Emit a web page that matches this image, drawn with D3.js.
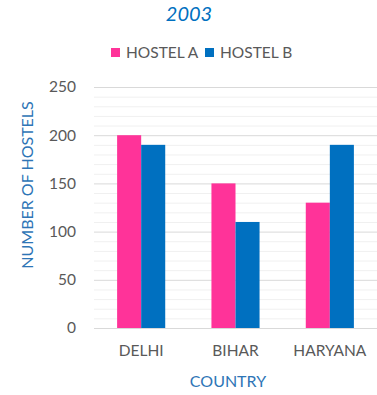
<!DOCTYPE html>
<html>
<head>
<meta charset="utf-8">
<script src="https://cdn.jsdelivr.net/npm/d3@7"></script>
<style>
  body { margin: 0; background: #fff; }
  svg { display: block; font-family: Lato, "Open Sans", sans-serif; }
</style>
</head>
<body>
<svg id="chart" width="377" height="395"></svg>
<script>
const categories = ["DELHI", "BIHAR", "HARYANA"]
const seriesNames = ["HOSTEL A", "HOSTEL B"]
const hostelA = [200, 150, 130]
const hostelB = [190, 110, 190]
const yTicks = [0, 50, 100, 150, 200, 250]
const colors = ["#FF3399", "#0070C0"]

const svg = d3.select("#chart")
const margin = { top: 87, right: 0, bottom: 67, left: 94 }
const width = 377 - margin.left - margin.right
const height = 395 - margin.top - margin.bottom

const x = d3.scaleBand().domain(categories).range([0, width]).paddingInner(0.49).paddingOuter(0.245)
const xs = d3.scaleBand().domain(seriesNames).range([0, x.bandwidth()])
const y = d3.scaleLinear().domain([0, 250]).range([height, 0])

const g = svg.append("g").attr("transform", `translate(${margin.left},${margin.top})`)

// minor grid
g.selectAll("line.minor")
  .data(d3.range(10, 250, 10).filter(v => v % 50 != 0))
  .enter().append("line")
    .attr("x1", 0).attr("x2", width)
    .attr("y1", d => y(d) + 0.5).attr("y2", d => y(d) + 0.5)
    .attr("stroke", "#f0f0f0")

// major grid
g.selectAll("line.major")
  .data(yTicks)
  .enter().append("line")
    .attr("x1", 0).attr("x2", width)
    .attr("y1", d => y(d) + 0.5).attr("y2", d => y(d) + 0.5)
    .attr("stroke", "#d9d9d9")

const rows = categories.map((c, i) => ({ cat: c, vals: [hostelA[i], hostelB[i]] }))

const groups = g.selectAll("g.cat")
  .data(rows)
  .enter().append("g")
    .attr("transform", d => `translate(${x(d.cat)},0)`)

groups.selectAll("rect")
  .data(d => d.vals.map((v, i) => ({ key: seriesNames[i], v: v, i: i })))
  .enter().append("rect")
    .attr("x", d => xs(d.key))
    .attr("width", xs.bandwidth())
    .attr("y", d => y(d.v))
    .attr("height", d => height - y(d.v))
    .attr("fill", d => colors[d.i])

// y axis labels
const yAxis = g.append("g").call(d3.axisLeft(y).tickValues(yTicks).tickSize(0).tickPadding(18))
yAxis.select(".domain").remove()
yAxis.selectAll("text").attr("font-size", 15.5).attr("fill", "#595959").attr("font-family", "Lato, sans-serif")

// x axis labels
const xAxis = g.append("g").attr("transform", `translate(0,${height})`)
  .call(d3.axisBottom(x).tickSize(0).tickPadding(17))
xAxis.select(".domain").remove()
xAxis.selectAll("text").attr("font-size", 15.5).attr("fill", "#595959").attr("font-family", "Lato, sans-serif")

// titles
svg.append("text")
  .attr("x", 189).attr("y", 21)
  .attr("text-anchor", "middle")
  .attr("font-size", 20).attr("font-style", "italic")
  .attr("fill", "#0070C0")
  .text("2003")

svg.append("text")
  .attr("x", 228).attr("y", 387)
  .attr("text-anchor", "middle")
  .attr("font-size", 16).attr("fill", "#2E75B6")
  .text("COUNTRY")

svg.append("text")
  .attr("transform", `translate(33,185) rotate(-90)`)
  .attr("text-anchor", "middle")
  .attr("font-size", 16).attr("fill", "#2E75B6")
  .text("NUMBER OF HOSTELS")

// legend
const legend = svg.append("g")
const lx = [111, 205]
seriesNames.forEach((s, i) => {
  legend.append("rect").attr("x", lx[i]).attr("y", 48).attr("width", 9).attr("height", 9).attr("fill", colors[i])
  legend.append("text").attr("x", lx[i] + 15).attr("y", 57.5)
    .attr("font-size", 15.5).attr("fill", "#595959").text(s)
})
</script>
</body>
</html>
